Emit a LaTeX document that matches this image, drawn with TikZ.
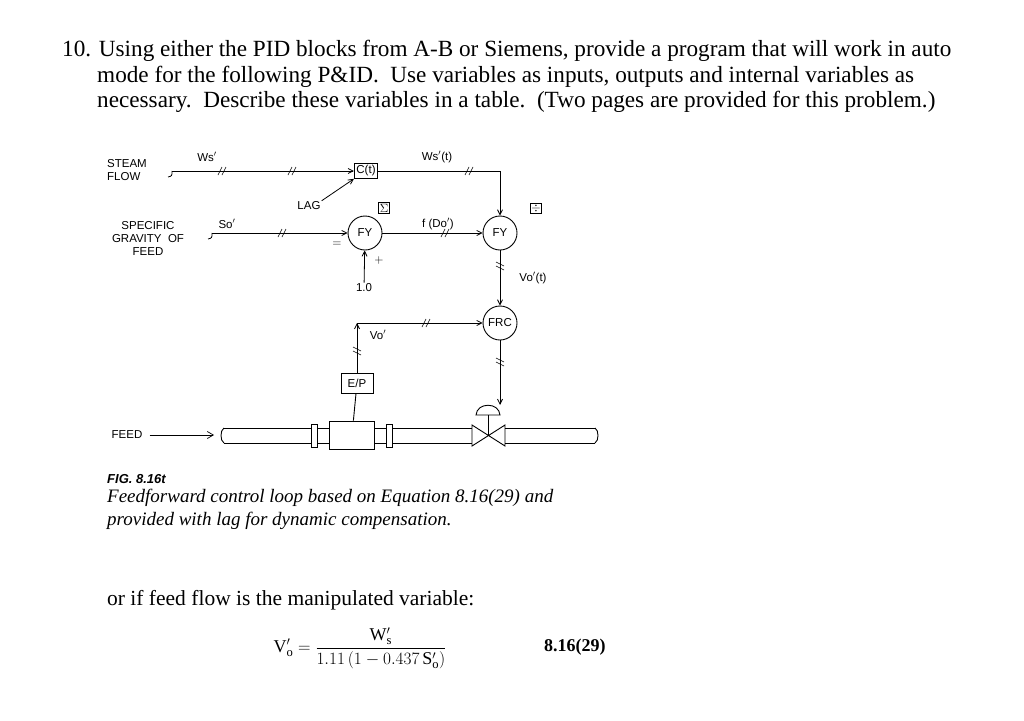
\documentclass[tikz,border=0pt]{standalone}
\usepackage{amsmath}
\usepackage{fontspec}
\setmainfont{Liberation Serif}
\newfontfamily\diag{Liberation Sans}
\usetikzlibrary{arrows.meta,positioning}
\tikzset{
  sig/.style={-{Straight Barb[length=5pt,width=5pt]}, line width=0.8pt},
  inst/.style={circle, draw, line width=0.9pt, minimum size=34pt, inner sep=0pt, font=\diag\fontsize{11.5}{11}\selectfont},
  blk/.style={draw, line width=0.9pt, inner sep=2pt, font=\diag\fontsize{11.5}{11}\selectfont},
  lbl/.style={font=\diag\fontsize{11.5}{13}\selectfont, inner sep=1pt},
  ticks/.pic={\draw[line width=0.6pt] (-4,4) -- (0,-4) (0,4) -- (4,-4);},
  vticks/.pic={\draw[line width=0.6pt] (-4,-4) -- (4,0) (-4,0) -- (4,4);},
  txt/.style={font=\fontsize{23.2}{24}\selectfont, anchor=base west, inner sep=0pt}
}
\begin{document}
\begin{tikzpicture}[x=1pt, y=-1pt]
  \useasboundingbox (0,0) rectangle (1024,720);

  % Problem statement
  \node[txt] (q1) at (62,56) {10. Using either the PID blocks from A-B or Siemens, provide a program that will work in auto};
  \node[txt] (q2) at (97,82) {mode for the following P\&ID.\ \ Use variables as inputs, outputs and internal variables as};
  \node[txt] (q3) at (97,107) {necessary.\ \ Describe these variables in a table.\ \ (Two pages are provided for this problem.)};

  % Instruments and blocks
  \node[blk] (ct) at (366,171) {C(t)};
  \node[inst] (fy1) at (365,233) {FY};
  \node[inst] (fy2) at (500,233) {FY};
  \node[inst] (frc) at (500,323) {FRC};
  \node[blk, minimum width=32pt, minimum height=20pt] (ep) at (357,383) {E/P};
  \node[blk, inner sep=1pt] (sum) at (384,208) {$\Sigma$};
  \node[blk, inner sep=1pt] (div) at (536,208) {$\div$};

  % Input labels
  \node[lbl, align=left, anchor=west] (steam) at (106,170) {STEAM\\FLOW};
  \node[lbl, align=center] (sg) at (148,238) {SPECIFIC\\GRAVITY\ \ OF\\FEED};
  \coordinate (ws) at (172,171);
  \coordinate (so) at (212,233);
  \draw[line width=0.8pt] (168,177) .. controls (172,176) .. (ws);
  \draw[line width=0.8pt] (208,239) .. controls (212,238) .. (so);
  \node[lbl] (wsl) at (207,157) {Ws$'$};
  \node[lbl] (sol) at (227,224) {So$'$};

  % Signal lines
  \draw[sig] (ws) -- (ct);
  \pic at (222,171) {ticks};
  \pic at (292,171) {ticks};
  \coordinate (ctr) at (fy2 |- ct);
  \draw[sig] (ct) -- (ctr) -- (fy2);
  \pic at (469,171) {ticks};
  \node[lbl] (wstl) at (437,157) {Ws$'$(t)};

  \node[lbl] (lag) at (309,206) {LAG};
  \draw[sig] (lag.north east) -- (ct.south west);

  \draw[sig] (so) -- (fy1);
  \pic at (282,233) {ticks};
  \node[lbl] (minus) at (337,244) {$=$};
  \node[lbl] (one) at (364,288) {1.0};
  \draw[sig] (one) -- (fy1);
  \node[lbl] (plus) at (379,260) {$+$};

  \draw[sig] (fy1) -- (fy2);
  \pic at (445,233) {ticks};
  \node[lbl] (fdo) at (438,224) {f (Do$'$)};

  \draw[sig] (fy2) -- (frc);
  \pic at (500,266) {vticks};
  \node[lbl] (vot) at (533,278) {Vo$'$(t)};

  \coordinate (vo) at (ep |- frc);
  \draw[sig] (ep) -- (vo);
  \draw[sig] (vo) -- (frc);
  \pic at (357,351) {vticks};
  \pic at (426,323) {ticks};
  \node[lbl] (vol) at (378,335) {Vo$'$};

  % Pipe and equipment
  \draw[line width=0.9pt] (224,428) -- (311,428) (224,443) -- (311,443);
  \draw[line width=0.9pt] (224,428) .. controls (220,430) and (220,441) .. (224,443);
  \draw[line width=0.9pt] (311,424) rectangle (317,447);
  \draw[line width=0.9pt] (317,428) -- (330,428) (317,443) -- (330,443);
  \node[draw, line width=0.9pt, minimum width=45pt, minimum height=28pt, inner sep=0pt] (fe) at (352,435) {};
  \draw[line width=0.9pt] (375,428) -- (386,428) (375,443) -- (386,443);
  \draw[line width=0.9pt] (386,424) rectangle (392,447);
  \draw[line width=0.9pt] (392,428) -- (472,428) (392,443) -- (472,443);
  \draw[line width=0.9pt] (ep) -- (fe);
  % Control valve
  \coordinate (vc) at (488,435);
  \draw[line width=0.9pt] (472,425) -- (472,446) -- (505,425) -- (505,446) -- cycle;
  \draw[line width=0.9pt] (505,428) -- (595,428) (505,443) -- (595,443);
  \draw[line width=0.9pt] (595,428) .. controls (599,430) and (599,441) .. (595,443);
  \draw[line width=0.9pt] (476,415) .. controls (477,402) and (499,402) .. (500,415) -- cycle;
  \draw[line width=0.9pt] (488,415) -- (vc);
  \coordinate (act) at (488,405);
  \draw[sig] (frc) -- (frc |- act);
  \pic at (500,362) {vticks};

  \node[lbl] (feed) at (127,435) {FEED};
  \coordinate (pin) at (214,435);
  \draw[-{Straight Barb[length=6pt,width=7pt]}, line width=0.7pt] (feed.east) ++(6,0) -- (pin);

  % Caption
  \node[anchor=base west, inner sep=0pt, font=\diag\bfseries\itshape\fontsize{13}{14}\selectfont] (fig) at (107,483) {FIG. 8.16t};
  \node[anchor=north west, inner sep=0pt, align=left, font=\itshape\fontsize{19}{23}\selectfont] (cap) at (107,489)
    {Feedforward control loop based on Equation 8.16(29) and\\provided with lag for dynamic compensation.};

  \node[anchor=base west, inner sep=0pt, font=\fontsize{21.5}{22}\selectfont] (or) at (107,605) {or if feed flow is the manipulated variable:};
  \node[inner sep=0pt, font=\fontsize{18}{20}\selectfont] (eq) at (360,648)
    {$\mathrm{V}'_{\mathrm{o}} = \dfrac{\mathrm{W}'_{\mathrm{s}}}{1.11\,(1 - 0.437\,\mathrm{S}'_{\mathrm{o}})}$};
  \node[anchor=base west, inner sep=0pt, font=\bfseries\fontsize{18}{20}\selectfont] (eqn) at (544,651) {8.16(29)};
\end{tikzpicture}
\end{document}
